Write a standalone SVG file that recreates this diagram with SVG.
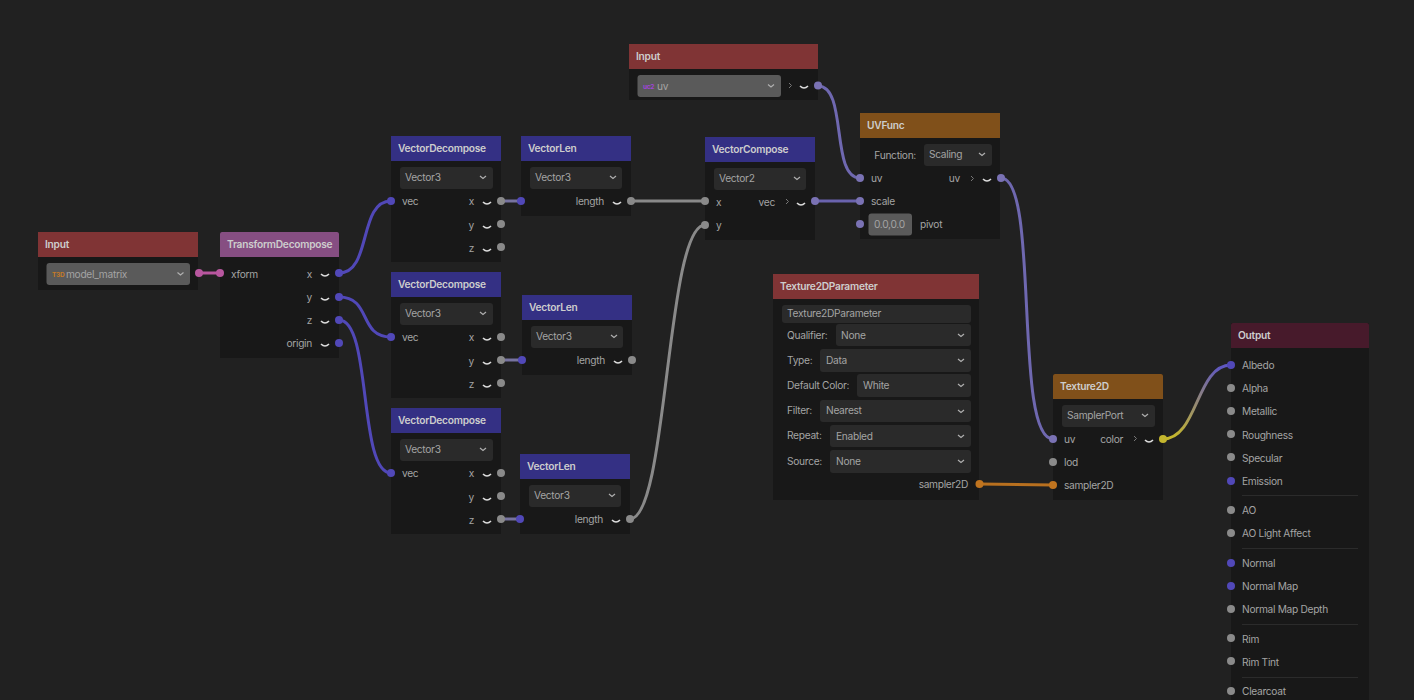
<svg xmlns="http://www.w3.org/2000/svg" width="1414" height="700" viewBox="0 0 1414 700">
<defs>
<linearGradient id="gBY" gradientUnits="userSpaceOnUse" x1="1163" y1="439" x2="1231" y2="365"><stop offset="0.1" stop-color="#c4b62e"/><stop offset="0.9" stop-color="#6058c0"/></linearGradient>
</defs>
<style>
text{font-family:Inter,"Liberation Sans",sans-serif;font-size:10.2px;letter-spacing:-0.3px;fill:#a4a4a4}
.t{font-weight:600;fill:#cdcdcd;font-size:10.2px;letter-spacing:-0.25px}
.body{fill:#181818}
.dd{fill:#2a2a2a}
.ddh{fill:#5a5a5a}
.c{fill:none;stroke:#dcdcdc;stroke-width:1.6}
.ch{fill:none;stroke:#b0b0b0;stroke-width:1.2}
.ca{fill:none;stroke:#777;stroke-width:1}
.g{fill:#8a8a8a}.b{fill:#5148b8}.u{fill:#7a72b4}.o{fill:#c0741f}.p{fill:#b8579f}.y{fill:#c4b62e}
.w{fill:none;stroke-width:3;stroke-linecap:round}
.e{text-anchor:end}
.sep{stroke:#2b2b2b;stroke-width:1}
</style>
<rect width="1414" height="700" fill="#212121"/>
<g id="node-input-matrix">
<rect x="38" y="232" width="160" height="58" class="body"/><path d="M38 257V232H198V257Z" fill="#803435"/>
<text class="t" x="45" y="248">Input</text>
<rect x="46.500" y="263" width="143.500" height="22" rx="3" class="ddh"/>
<text x="52" y="277" style="font-size:6.500px;fill:#c67a26;font-weight:700">T3D</text>
<text x="66" y="277.500">model_matrix</text>
<path class="ch" d="M177.500 272.500l3 2.500 3-2.500"/>
</g>
<g id="node-transform-decompose">
<rect x="220" y="232" width="119" height="126" class="body"/><path d="M220 257V234a2 2 0 0 1 2-2H337a2 2 0 0 1 2 2V257Z" fill="#864e82"/>
<text class="t" x="227" y="248">TransformDecompose</text>
<text x="231" y="277.500">xform</text>
<text class="e" x="312" y="277.500">x</text><text class="e" x="312" y="301">y</text><text class="e" x="312" y="324">z</text><text class="e" x="312" y="347">origin</text>
<path class="c" d="M321 274q4 4 8 0M321 298q4 4 8 0M321 321q4 4 8 0M321 344q4 4 8 0"/>
</g>
<g id="node-vd1">
<rect x="391" y="136" width="110" height="126" class="body"/><path d="M391 161V136H501V161Z" fill="#343084"/>
<text class="t" x="398" y="152">VectorDecompose</text>
<rect x="400" y="167" width="93" height="22" rx="3" class="dd"/><text x="405" y="181">Vector3</text><path class="ch" d="M480 176l3 2.500 3-2.500"/>
<text x="402" y="205">vec</text>
<text class="e" x="474" y="205">x</text><text class="e" x="474" y="229">y</text><text class="e" x="474" y="252">z</text>
<path class="c" d="M483 202q4 4 8 0M483 226q4 4 8 0M483 249q4 4 8 0"/>
</g>
<g id="node-vd2">
<rect x="391" y="272" width="110" height="126" class="body"/><path d="M391 297V272H501V297Z" fill="#343084"/>
<text class="t" x="398" y="288">VectorDecompose</text>
<rect x="400" y="303" width="93" height="22" rx="3" class="dd"/><text x="405" y="317">Vector3</text><path class="ch" d="M480 312l3 2.500 3-2.500"/>
<text x="402" y="341">vec</text>
<text class="e" x="474" y="341">x</text><text class="e" x="474" y="365">y</text><text class="e" x="474" y="388">z</text>
<path class="c" d="M483 338q4 4 8 0M483 362q4 4 8 0M483 385q4 4 8 0"/>
</g>
<g id="node-vd3">
<rect x="391" y="408" width="110" height="126" class="body"/><path d="M391 433V408H501V433Z" fill="#343084"/>
<text class="t" x="398" y="424">VectorDecompose</text>
<rect x="400" y="439" width="93" height="22" rx="3" class="dd"/><text x="405" y="453">Vector3</text><path class="ch" d="M480 448l3 2.500 3-2.500"/>
<text x="402" y="477">vec</text>
<text class="e" x="474" y="477">x</text><text class="e" x="474" y="501">y</text><text class="e" x="474" y="524">z</text>
<path class="c" d="M483 474q4 4 8 0M483 498q4 4 8 0M483 521q4 4 8 0"/>
</g>
<g id="node-vl1">
<rect x="521" y="136" width="110" height="80" class="body"/><path d="M521 161V136H631V161Z" fill="#343084"/>
<text class="t" x="528" y="152">VectorLen</text>
<rect x="530" y="167" width="92" height="22" rx="3" class="dd"/><text x="535" y="181">Vector3</text><path class="ch" d="M610 176l3 2.500 3-2.500"/>
<text class="e" x="604" y="205">length</text>
<path class="c" d="M613 202q4 4 8 0"/>
</g>
<g id="node-vl2">
<rect x="522" y="295" width="110" height="80" class="body"/><path d="M522 320V295H632V320Z" fill="#343084"/>
<text class="t" x="529" y="311">VectorLen</text>
<rect x="531" y="326" width="92" height="22" rx="3" class="dd"/><text x="536" y="340">Vector3</text><path class="ch" d="M611 335l3 2.500 3-2.500"/>
<text class="e" x="605" y="364">length</text>
<path class="c" d="M614 361q4 4 8 0"/>
</g>
<g id="node-vl3">
<rect x="520" y="454" width="110" height="80" class="body"/><path d="M520 479V454H630V479Z" fill="#343084"/>
<text class="t" x="527" y="470">VectorLen</text>
<rect x="529" y="485" width="92" height="22" rx="3" class="dd"/><text x="534" y="499">Vector3</text><path class="ch" d="M609 494l3 2.500 3-2.500"/>
<text class="e" x="603" y="523">length</text>
<path class="c" d="M612 520q4 4 8 0"/>
</g>
<g id="node-vc">
<rect x="705" y="137" width="110" height="103" class="body"/><path d="M705 162V137H815V162Z" fill="#343084"/>
<text class="t" x="712" y="153">VectorCompose</text>
<rect x="714" y="168" width="92" height="22" rx="3" class="dd"/><text x="719" y="182">Vector2</text><path class="ch" d="M794 177l3 2.500 3-2.500"/>
<text x="716" y="206">x</text><text x="716" y="229">y</text>
<text class="e" x="775" y="206">vec</text>
<path class="ca" d="M786 199l2.500 2.500-2.500 2.500"/>
<path class="c" d="M797 203q4 4 8 0"/>
</g>
<g id="node-input-uv">
<rect x="629" y="44" width="189" height="56" class="body"/><path d="M629 69V44H818V69Z" fill="#803435"/>
<text class="t" x="636" y="60">Input</text>
<rect x="637.500" y="75" width="143.500" height="22" rx="3" class="ddh"/>
<text x="643" y="88.500" style="font-size:6.500px;fill:#a044d8;font-weight:700">uc2</text>
<text x="657" y="89.500">uv</text>
<path class="ch" d="M768 84.500l3 2.500 3-2.500"/>
<path class="ca" d="M789 83l2.500 2.500-2.500 2.500"/>
<path class="c" d="M800 86q4 4 8 0"/>
</g>
<g id="node-uvfunc">
<rect x="860" y="113" width="140" height="126" class="body"/><path d="M860 138V113H1000V138Z" fill="#80501a"/>
<text class="t" x="867" y="129">UVFunc</text>
<text class="e" x="916" y="158.500">Function:</text>
<rect x="924" y="144" width="68" height="22" rx="3" class="dd"/><text x="929" y="158">Scaling</text><path class="ch" d="M979 153l3 2.500 3-2.500"/>
<text x="871" y="182">uv</text><text x="871" y="205">scale</text><text x="920" y="228">pivot</text>
<rect x="868.500" y="213.500" width="43.500" height="22" rx="3" class="ddh"/><text x="874" y="228">0.0,0.0</text>
<text class="e" x="960" y="182">uv</text>
<path class="ca" d="M971 176l2.500 2.500-2.500 2.500"/>
<path class="c" d="M983 179q4 4 8 0"/>
</g>
<g id="node-tex-param">
<rect x="773" y="274" width="206" height="226" class="body"/><path d="M773 299V274H979V299Z" fill="#803435"/>
<text class="t" x="780" y="290">Texture2DParameter</text>
<rect x="782" y="305" width="189" height="18" rx="3" class="dd"/><text x="787" y="317">Texture2DParameter</text>
<text x="787" y="339">Qualifier:</text><rect x="836" y="324" width="135" height="22" rx="3" class="dd"/><text x="841" y="339">None</text><path class="ch" d="M958 334l3 2.500 3-2.500"/>
<text x="787" y="364">Type:</text><rect x="820" y="349" width="151" height="23" rx="3" class="dd"/><text x="826" y="364">Data</text><path class="ch" d="M958 359l3 2.500 3-2.500"/>
<text x="787" y="389">Default Color:</text><rect x="857" y="374" width="114" height="23" rx="3" class="dd"/><text x="863" y="389">White</text><path class="ch" d="M958 384l3 2.500 3-2.500"/>
<text x="787" y="414">Filter:</text><rect x="820" y="400" width="151" height="22" rx="3" class="dd"/><text x="826" y="414">Nearest</text><path class="ch" d="M958 410l3 2.500 3-2.500"/>
<text x="787" y="439">Repeat:</text><rect x="830" y="425" width="141" height="22" rx="3" class="dd"/><text x="836" y="440">Enabled</text><path class="ch" d="M958 435l3 2.500 3-2.500"/>
<text x="787" y="465">Source:</text><rect x="830" y="450" width="141" height="23" rx="3" class="dd"/><text x="836" y="465">None</text><path class="ch" d="M958 460l3 2.500 3-2.500"/>
<text class="e" x="968" y="488">sampler2D</text>
</g>
<g id="node-texture2d">
<rect x="1053" y="374" width="110" height="126" class="body"/><path d="M1053 399V376a2 2 0 0 1 2-2H1161a2 2 0 0 1 2 2V399Z" fill="#80501a"/>
<text class="t" x="1060" y="390">Texture2D</text>
<rect x="1062" y="405" width="93" height="22" rx="3" class="dd"/><text x="1067" y="419">SamplerPort</text><path class="ch" d="M1142 414l3 2.500 3-2.500"/>
<text x="1064" y="443">uv</text><text x="1064" y="466">lod</text><text x="1064" y="489">sampler2D</text>
<text class="e" x="1123" y="443">color</text>
<path class="ca" d="M1134 436l2.500 2.500-2.500 2.500"/>
<path class="c" d="M1145 440q4 4 8 0"/>
</g>
<g id="node-output">
<rect x="1231" y="323" width="138" height="377" class="body"/><path d="M1231 348V325a2 2 0 0 1 2-2H1367a2 2 0 0 1 2 2V348Z" fill="#471a2b"/>
<text class="t" x="1238" y="339">Output</text>
<text x="1242" y="369">Albedo</text><text x="1242" y="392">Alpha</text><text x="1242" y="415">Metallic</text><text x="1242" y="438.500">Roughness</text><text x="1242" y="461.500">Specular</text><text x="1242" y="485">Emission</text>
<line class="sep" x1="1242" y1="495.500" x2="1358" y2="495.500"/>
<text x="1242" y="514">AO</text><text x="1242" y="537">AO Light Affect</text>
<line class="sep" x1="1242" y1="548.500" x2="1358" y2="548.500"/>
<text x="1242" y="567">Normal</text><text x="1242" y="590">Normal Map</text><text x="1242" y="613">Normal Map Depth</text>
<line class="sep" x1="1242" y1="624.500" x2="1358" y2="624.500"/>
<text x="1242" y="642.500">Rim</text><text x="1242" y="665.500">Rim Tint</text>
<line class="sep" x1="1242" y1="677.500" x2="1358" y2="677.500"/>
<text x="1242" y="695">Clearcoat</text>
</g>
<g id="connectors">
<path class="w" d="M199 273H220" stroke="#b9569f"/>
<path class="w" d="M339 273C372 273 358 201 391 201" stroke="#5148b8"/>
<path class="w" d="M339 297C372 297 358 337 391 337" stroke="#5148b8"/>
<path class="w" d="M339 320C372 320 358 473 391 473" stroke="#5148b8"/>
<path class="w" d="M501 201H521" stroke="#77739f"/>
<path class="w" d="M501 360H522" stroke="#77739f"/>
<path class="w" d="M501 519H520" stroke="#77739f"/>
<path class="w" d="M631 201H705" stroke="#8a8a8a"/>
<path class="w" d="M630 519C668 519 666 225 705 225" stroke="#8a8a8a"/>
<path class="w" d="M815 201H860" stroke="#6a63ae"/>
<path class="w" d="M818 86C848 86 830 178 860 178" stroke="#6f68b0"/>
<path class="w" d="M1001 178C1040 178 1013 439 1053 439" stroke="#6f68b0"/>
<path class="w" d="M979 484L1053 485" stroke="#b8701f"/>
<path class="w" d="M1163 439C1198 439 1196 365 1231 365" stroke="url(#gBY)"/>
</g>
<g id="ports">
<circle cx="199" cy="273" r="4" class="p"/>
<circle cx="220" cy="273" r="4" class="p"/>
<circle cx="339" cy="273" r="4" class="b"/><circle cx="339" cy="297" r="4" class="b"/><circle cx="339" cy="320" r="4" class="b"/><circle cx="339" cy="343" r="4" class="b"/>
<circle cx="391" cy="201" r="4" class="b"/><circle cx="501" cy="201" r="4" class="g"/><circle cx="501" cy="224" r="4" class="g"/><circle cx="501" cy="247" r="4" class="g"/>
<circle cx="391" cy="337" r="4" class="b"/><circle cx="501" cy="337" r="4" class="g"/><circle cx="501" cy="360" r="4" class="g"/><circle cx="501" cy="383" r="4" class="g"/>
<circle cx="391" cy="473" r="4" class="b"/><circle cx="501" cy="473" r="4" class="g"/><circle cx="501" cy="496" r="4" class="g"/><circle cx="501" cy="519" r="4" class="g"/>
<circle cx="521" cy="201" r="4" class="b"/><circle cx="631" cy="201" r="4" class="g"/>
<circle cx="522" cy="360" r="4" class="b"/><circle cx="632" cy="360" r="4" class="g"/>
<circle cx="520" cy="519" r="4" class="b"/><circle cx="630" cy="519" r="4" class="g"/>
<circle cx="705" cy="201" r="4" class="g"/><circle cx="705" cy="225" r="4" class="g"/><circle cx="815" cy="201" r="4" class="u"/>
<circle cx="818" cy="85.500" r="4" class="u"/>
<circle cx="860" cy="178" r="4" class="u"/><circle cx="860" cy="201" r="4" class="u"/><circle cx="860" cy="224" r="4" class="u"/><circle cx="1001" cy="178" r="4" class="u"/>
<circle cx="979.500" cy="484" r="4" class="o"/>
<circle cx="1053" cy="439" r="4" class="u"/><circle cx="1053" cy="462" r="4" class="g"/><circle cx="1053" cy="485" r="4" class="o"/><circle cx="1163" cy="439" r="4" class="y"/>
<circle cx="1231" cy="365" r="4" class="b"/><circle cx="1231" cy="388" r="4" class="g"/><circle cx="1231" cy="411" r="4" class="g"/><circle cx="1231" cy="434" r="4" class="g"/><circle cx="1231" cy="457" r="4" class="g"/><circle cx="1231" cy="481" r="4" class="b"/>
<circle cx="1231" cy="510" r="4" class="g"/><circle cx="1231" cy="533" r="4" class="g"/>
<circle cx="1231" cy="563" r="4" class="b"/><circle cx="1231" cy="586" r="4" class="b"/><circle cx="1231" cy="609" r="4" class="g"/>
<circle cx="1231" cy="638" r="4" class="g"/><circle cx="1231" cy="661" r="4" class="g"/>
<circle cx="1231" cy="691" r="4" class="g"/>
</g>
</svg>
